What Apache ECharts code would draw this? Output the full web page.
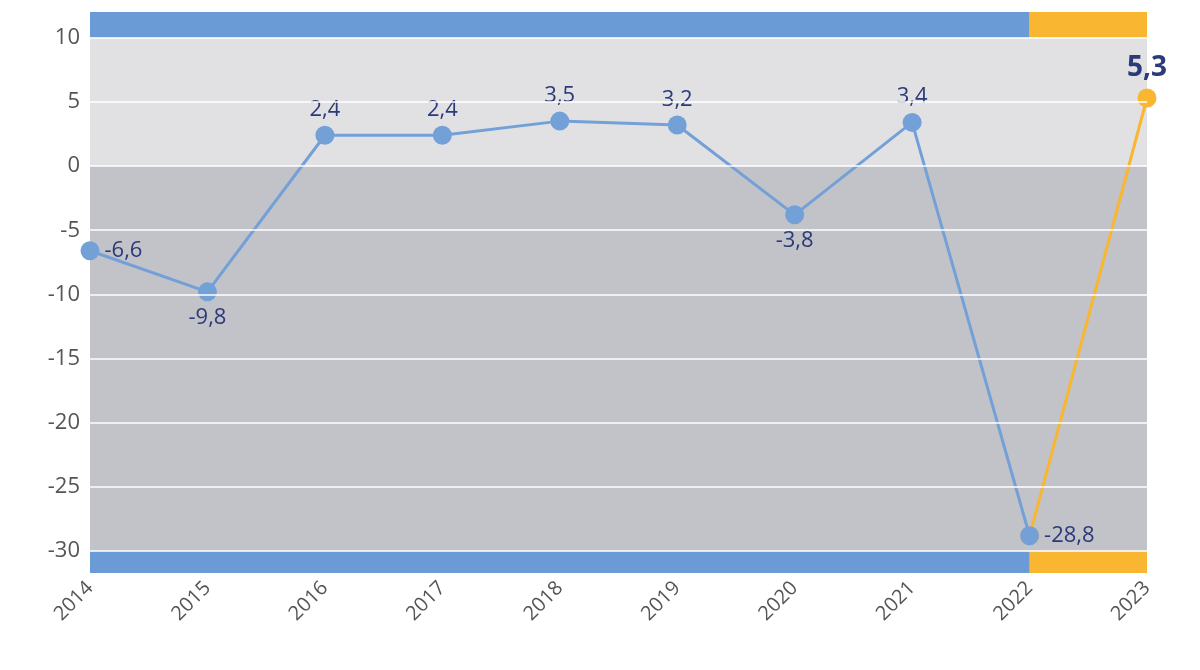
<!DOCTYPE html>
<html><head><meta charset="utf-8">
<script src="https://cdn.jsdelivr.net/npm/echarts@6/dist/echarts.min.js"></script>
<style>html,body{margin:0;background:#fff}#c{width:1200px;height:670px}</style>
</head><body><div id="c"></div>
<script>
var years = ['2014','2015','2016','2017','2018','2019','2020','2021','2022','2023'];
var growth = [-6.6, -9.8, 2.4, 2.4, 3.5, 3.2, -3.8, 3.4, -28.8, null];
var forecast = [null, null, null, null, null, null, null, null, -28.8, 5.3];
var yTicks = [-30, -25, -20, -15, -10, -5, 0, 5, 10];
var yMin = -31.7, yMax = 12;

var labelPos = ['right', 'bottom', 'top', 'top', 'top', 'top', 'bottom', 'top', 'right'];
var fmt = function (v) { return String(v).replace('.', ','); };

var chart = echarts.init(document.getElementById('c'));
chart.setOption({
  animation: false,
  grid: { left: 90, right: 53, top: 12, bottom: 97 },
  xAxis: {
    type: 'category', data: years, boundaryGap: false,
    axisLine: { show: false }, axisTick: { show: false },
    splitLine: { show: true, lineStyle: { color: '#fff', width: 1.5 } },
    axisLabel: { rotate: 45, color: '#555', fontSize: 20, fontFamily: 'Open Sans', margin: 12 }
  },
  yAxis: {
    type: 'value', min: yMin, max: yMax,
    axisLine: { show: false }, axisTick: { show: false }, splitLine: { show: false },
    axisLabel: { customValues: yTicks, color: '#555', fontSize: 22, fontFamily: 'Open Sans', margin: 10 }
  },
  series: [
    {
      type: 'line', data: growth, z: 3,
      symbol: 'circle', symbolSize: 19,
      lineStyle: { color: '#74a0d8', width: 3 },
      itemStyle: { color: '#74a0d8' },
      label: {
        show: true, color: '#2b3a78', fontSize: 22, fontFamily: 'Open Sans',
        formatter: function (p) { return fmt(p.value); },
        position: 'top'
      },
      labelLayout: function (p) { return {}; },
      markArea: {
        silent: true,
        data: [
          [{ yAxis: 0, itemStyle: { color: '#e1e1e4' } }, { yAxis: yMax }],
          [{ yAxis: yMin, itemStyle: { color: '#c2c2c9' } }, { yAxis: 0 }],
          [{ xAxis: '2014', yAxis: 10, itemStyle: { color: '#6b9bd7' } }, { xAxis: '2022', yAxis: yMax }],
          [{ xAxis: '2022', yAxis: 10, itemStyle: { color: '#f8b631' } }, { xAxis: '2023', yAxis: yMax }],
          [{ xAxis: '2014', yAxis: yMin, itemStyle: { color: '#6b9bd7' } }, { xAxis: '2022', yAxis: -30 }],
          [{ xAxis: '2022', yAxis: yMin, itemStyle: { color: '#f8b631' } }, { xAxis: '2023', yAxis: -30 }]
        ]
      },
      markLine: {
        silent: true, symbol: 'none', label: { show: false },
        lineStyle: { color: '#fff', width: 1.5, type: 'solid' },
        data: yTicks.map(function (t) { return { yAxis: t }; })
      }
    },
    {
      type: 'line', data: forecast, z: 2,
      symbol: 'circle', symbolSize: 19,
      lineStyle: { color: '#f8b631', width: 3 },
      itemStyle: { color: '#f8b631' },
      label: {
        show: true, position: 'top', distance: 6, color: '#2b3a78', fontSize: 28, fontWeight: 'bold',
        fontFamily: 'Open Sans',
        formatter: function (p) { return p.dataIndex === 9 ? fmt(p.value) : ''; }
      }
    }
  ]
});
// per-point label positions
chart.setOption({
  series: [{
    data: growth.map(function (v, i) {
      if (v === null) return v;
      return { value: v, label: { position: labelPos[i], offset: i === 0 ? [-6, -14] : (i === 8 ? [0, -10] : [0, 0]) } };
    })
  }]
});
</script></body></html>
